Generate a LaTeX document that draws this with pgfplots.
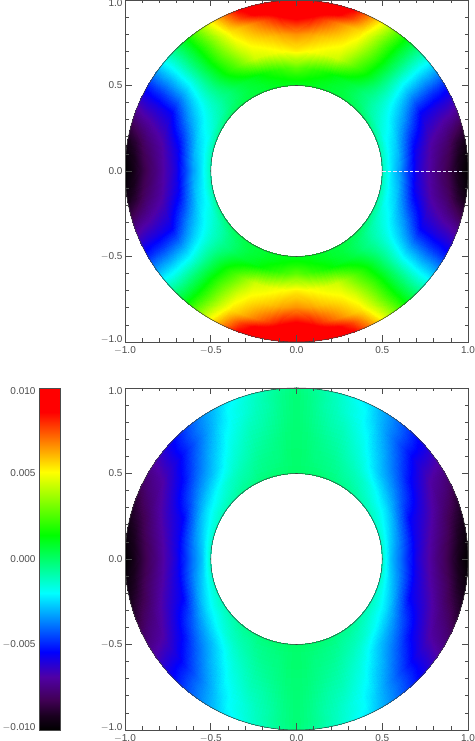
\documentclass[border=0pt]{standalone}
\usepackage{fontspec}
\setmainfont{Liberation Sans}
\usepackage{pgfplots}
\usepackage{pgfplotstable}
\usepgfplotslibrary{patchplots}
\pgfplotsset{compat=1.18}
\newcommand{\up}[1]{\raisebox{3pt}[7pt][0pt]{#1}}
\newcommand{\dn}[1]{\raisebox{-3pt}[7pt][0pt]{#1}}
% colormap positions: (value+10)*10 with value in thousandths
\pgfplotsset{colormap={idl}{
 rgb255(0cm)=(0,0,0);
 rgb255(8cm)=(25,0,30);
 rgb255(17.5cm)=(65,0,85);
 rgb255(31cm)=(80,0,165);
 rgb255(45.5cm)=(0,0,255);
 rgb255(80cm)=(0,255,255);
 rgb255(114cm)=(0,255,0);
 rgb255(151cm)=(255,255,0);
 rgb255(186cm)=(255,0,0);
 rgb255(200cm)=(255,0,0)}}
\pgfplotstableread[row sep=\\]{
t r v\\
0 0.5 -1\\ 0 0.55 -2.2\\ 0 0.6 -3.3\\ 0 0.7 -5.9\\ 0 0.8 -7.3\\ 0 0.9 -8.6\\ 0 0.95 -9.4\\ 0 1 -10\\
5 0.5 -1\\ 5 0.55 -2.2\\ 5 0.6 -3.1\\ 5 0.7 -5.8\\ 5 0.8 -7.2\\ 5 0.9 -8.4\\ 5 0.95 -9.2\\ 5 1 -9.8\\
10 0.5 -0.9\\ 10 0.55 -2.1\\ 10 0.6 -2.9\\ 10 0.7 -5.6\\ 10 0.8 -7\\ 10 0.9 -8\\ 10 0.95 -8.8\\ 10 1 -9.3\\
15 0.5 -0.8\\ 15 0.55 -2\\ 15 0.6 -2.7\\ 15 0.7 -5.1\\ 15 0.8 -6.6\\ 15 0.9 -7.4\\ 15 0.95 -7.9\\ 15 1 -8.5\\
20 0.5 -0.7\\ 20 0.55 -1.9\\ 20 0.6 -2.4\\ 20 0.7 -4.4\\ 20 0.8 -6.1\\ 20 0.9 -6.7\\ 20 0.95 -6.9\\ 20 1 -7.3\\
25 0.5 -0.5\\ 25 0.55 -1.6\\ 25 0.6 -2.1\\ 25 0.7 -3.6\\ 25 0.8 -5.5\\ 25 0.9 -5.9\\ 25 0.95 -6\\ 25 1 -6.2\\
30 0.5 -0.4\\ 30 0.55 -1.3\\ 30 0.6 -1.8\\ 30 0.7 -2.9\\ 30 0.8 -4.3\\ 30 0.9 -4.7\\ 30 0.95 -4.8\\ 30 1 -5\\
35 0.5 -0.2\\ 35 0.55 -1\\ 35 0.6 -1.4\\ 35 0.7 -2.2\\ 35 0.8 -3\\ 35 0.9 -3.3\\ 35 0.95 -3.3\\ 35 1 -3.4\\
40 0.5 0\\ 40 0.55 -0.7\\ 40 0.6 -1\\ 40 0.7 -1.3\\ 40 0.8 -1.8\\ 40 0.9 -1.9\\ 40 0.95 -1.9\\ 40 1 -1.8\\
45 0.5 0.2\\ 45 0.55 -0.3\\ 45 0.6 -0.5\\ 45 0.7 -0.4\\ 45 0.8 -0.4\\ 45 0.9 -0.4\\ 45 0.95 -0.4\\ 45 1 -0.3\\
50 0.5 0.3\\ 50 0.55 0\\ 50 0.6 -0.1\\ 50 0.7 0.6\\ 50 0.8 0.9\\ 50 0.9 1\\ 50 0.95 1.1\\ 50 1 1.2\\
55 0.5 0.5\\ 55 0.55 0.3\\ 55 0.6 0.4\\ 55 0.7 1.6\\ 55 0.8 2.2\\ 55 0.9 2.5\\ 55 0.95 2.8\\ 55 1 3.1\\
60 0.5 0.6\\ 60 0.55 0.6\\ 60 0.6 0.8\\ 60 0.7 2.5\\ 60 0.8 3.4\\ 60 0.9 4.1\\ 60 0.95 4.6\\ 60 1 5.1\\
65 0.5 0.7\\ 65 0.55 0.8\\ 65 0.6 1.1\\ 65 0.7 3.5\\ 65 0.8 4.6\\ 65 0.9 5.5\\ 65 0.95 6.2\\ 65 1 6.9\\
70 0.5 0.8\\ 70 0.55 1\\ 70 0.6 1.4\\ 70 0.7 4.4\\ 70 0.8 5.3\\ 70 0.9 6.2\\ 70 0.95 7.7\\ 70 1 8.6\\
75 0.5 0.9\\ 75 0.55 1.2\\ 75 0.6 1.8\\ 75 0.7 4.6\\ 75 0.8 5.7\\ 75 0.9 7\\ 75 0.95 8.8\\ 75 1 9.4\\
80 0.5 1\\ 80 0.55 1.4\\ 80 0.6 2.1\\ 80 0.7 4.9\\ 80 0.8 6\\ 80 0.9 7.8\\ 80 0.95 9.2\\ 80 1 10\\
85 0.5 1\\ 85 0.55 1.6\\ 85 0.6 2.4\\ 85 0.7 5.1\\ 85 0.8 6.4\\ 85 0.9 8.6\\ 85 0.95 9.6\\ 85 1 10.3\\
90 0.5 1\\ 90 0.55 1.7\\ 90 0.6 2.7\\ 90 0.7 5.3\\ 90 0.8 6.6\\ 90 0.9 8.9\\ 90 0.95 9.9\\ 90 1 10.5\\
}\toptable
\pgfplotstableread[row sep=\\]{
t r v\\
0 0.5 -1.2\\ 0 0.55 -2.8\\ 0 0.6 -3.8\\ 0 0.7 -5.9\\ 0 0.8 -7.3\\ 0 0.9 -8.6\\ 0 0.95 -9.4\\ 0 1 -10\\
5 0.5 -1.2\\ 5 0.55 -2.7\\ 5 0.6 -3.7\\ 5 0.7 -5.8\\ 5 0.8 -7.2\\ 5 0.9 -8.5\\ 5 0.95 -9.2\\ 5 1 -9.8\\
10 0.5 -1.2\\ 10 0.55 -2.5\\ 10 0.6 -3.5\\ 10 0.7 -5.7\\ 10 0.8 -7\\ 10 0.9 -8.2\\ 10 0.95 -9\\ 10 1 -9.5\\
15 0.5 -1.2\\ 15 0.55 -2.3\\ 15 0.6 -3.3\\ 15 0.7 -5.6\\ 15 0.8 -6.7\\ 15 0.9 -8\\ 15 0.95 -8.6\\ 15 1 -9.2\\
20 0.5 -1.2\\ 20 0.55 -2.1\\ 20 0.6 -3\\ 20 0.7 -5.4\\ 20 0.8 -6.4\\ 20 0.9 -7.6\\ 20 0.95 -8.1\\ 20 1 -8.8\\
25 0.5 -1.2\\ 25 0.55 -1.9\\ 25 0.6 -2.7\\ 25 0.7 -4.8\\ 25 0.8 -6.1\\ 25 0.9 -7.3\\ 25 0.95 -7.6\\ 25 1 -8.1\\
30 0.5 -1.1\\ 30 0.55 -1.7\\ 30 0.6 -2.4\\ 30 0.7 -4.2\\ 30 0.8 -5.7\\ 30 0.9 -6.9\\ 30 0.95 -7.2\\ 30 1 -7.5\\
35 0.5 -1\\ 35 0.55 -1.6\\ 35 0.6 -2.2\\ 35 0.7 -3.7\\ 35 0.8 -5.3\\ 35 0.9 -6.3\\ 35 0.95 -6.5\\ 35 1 -6.8\\
40 0.5 -0.9\\ 40 0.55 -1.4\\ 40 0.6 -1.9\\ 40 0.7 -3.3\\ 40 0.8 -4.6\\ 40 0.9 -5.7\\ 40 0.95 -5.8\\ 40 1 -6\\
45 0.5 -0.8\\ 45 0.55 -1.2\\ 45 0.6 -1.6\\ 45 0.7 -2.9\\ 45 0.8 -3.9\\ 45 0.9 -4.9\\ 45 0.95 -5\\ 45 1 -5.3\\
50 0.5 -0.6\\ 50 0.55 -1\\ 50 0.6 -1.3\\ 50 0.7 -2.4\\ 50 0.8 -3.2\\ 50 0.9 -4.1\\ 50 0.95 -4.2\\ 50 1 -4.5\\
55 0.5 -0.5\\ 55 0.55 -0.8\\ 55 0.6 -1.1\\ 55 0.7 -1.8\\ 55 0.8 -2.6\\ 55 0.9 -3.3\\ 55 0.95 -3.5\\ 55 1 -3.7\\
60 0.5 -0.4\\ 60 0.55 -0.7\\ 60 0.6 -0.9\\ 60 0.7 -1.4\\ 60 0.8 -1.9\\ 60 0.9 -2.5\\ 60 0.95 -2.8\\ 60 1 -3\\
65 0.5 -0.3\\ 65 0.55 -0.5\\ 65 0.6 -0.7\\ 65 0.7 -1.1\\ 65 0.8 -1.5\\ 65 0.9 -1.9\\ 65 0.95 -2\\ 65 1 -2.3\\
70 0.5 -0.2\\ 70 0.55 -0.4\\ 70 0.6 -0.5\\ 70 0.7 -0.8\\ 70 0.8 -1.1\\ 70 0.9 -1.5\\ 70 0.95 -1.6\\ 70 1 -1.8\\
75 0.5 -0.1\\ 75 0.55 -0.3\\ 75 0.6 -0.4\\ 75 0.7 -0.6\\ 75 0.8 -0.9\\ 75 0.9 -1.1\\ 75 0.95 -1.2\\ 75 1 -1.3\\
80 0.5 -0.1\\ 80 0.55 -0.2\\ 80 0.6 -0.3\\ 80 0.7 -0.4\\ 80 0.8 -0.6\\ 80 0.9 -0.8\\ 80 0.95 -0.8\\ 80 1 -0.9\\
85 0.5 0\\ 85 0.55 -0.1\\ 85 0.6 -0.1\\ 85 0.7 -0.2\\ 85 0.8 -0.3\\ 85 0.9 -0.4\\ 85 0.95 -0.4\\ 85 1 -0.5\\
90 0.5 0\\ 90 0.55 0\\ 90 0.6 0\\ 90 0.7 -0.1\\ 90 0.8 -0.1\\ 90 0.9 -0.1\\ 90 0.95 -0.1\\ 90 1 -0.2\\
}\bottable
\pgfplotsset{
 idlbox/.style={
  scale only axis, width=343pt, height=342pt,
  xmin=-1, xmax=1, ymin=-1, ymax=1,
  axis on top, colormap name=idl,
  point meta min=-10, point meta max=10,
  axis line style={black!70, line width=0.7pt},
  tick style={black!70, line width=0.6pt},
  xtick={-1,-0.5,0,0.5,1}, ytick={-1,-0.5,0,0.5,1},
  xticklabels={$-$1.0,$-$0.5,0.0,0.5,1.0},
  yticklabels={\up{$-$1.0},$-$0.5,0.0,0.5,\dn{1.0}},
  minor tick num=4,
  major tick length=6.5pt, minor tick length=3.5pt,
  tick align=inside, ticks=both,
  every tick label/.append style={font=\fontsize{10}{11}\selectfont, text=black!70},
  xtick pos=both, ytick pos=both,
  xticklabel pos=bottom, yticklabel pos=left,
  xticklabel style={yshift=-1pt},
  yticklabel style={xshift=1pt},
 },
 pane/.style={surf, shader=interp, patch type=bilinear, mesh/cols=8, mesh/rows=19, point meta=\thisrow{v}},
}
\newcommand{\quadrants}[2]{%
\addplot[#2] table[x expr=\thisrow{r}*cos(\thisrow{t}), y expr=\thisrow{r}*sin(\thisrow{t})] {#1};
\addplot[#2] table[x expr=-\thisrow{r}*cos(\thisrow{t}), y expr=\thisrow{r}*sin(\thisrow{t})] {#1};
\addplot[#2] table[x expr=\thisrow{r}*cos(\thisrow{t}), y expr=-\thisrow{r}*sin(\thisrow{t})] {#1};
\addplot[#2] table[x expr=-\thisrow{r}*cos(\thisrow{t}), y expr=-\thisrow{r}*sin(\thisrow{t})] {#1};
}
\begin{document}
\begin{tikzpicture}[x=1pt,y=1pt]
\useasboundingbox (0,0) rectangle (474,741);
\begin{axis}[idlbox, at={(125pt,399pt)}, anchor=south west]
\quadrants{\toptable}{pane}
\draw[black!75, line width=0.55pt] (axis cs:0,0) circle[radius=1];
\draw[black!75, line width=0.55pt] (axis cs:0,0) circle[radius=0.5];
\addplot[white!90!blue, dash pattern=on 3.5pt off 2pt, line width=0.7pt, forget plot] coordinates {(0.5,0) (1,0)};
\end{axis}
\begin{axis}[idlbox, at={(125pt,11pt)}, anchor=south west]
\quadrants{\bottable}{pane}
\draw[black!75, line width=0.55pt] (axis cs:0,0) circle[radius=1];
\draw[black!75, line width=0.55pt] (axis cs:0,0) circle[radius=0.5];
\end{axis}
\begin{axis}[scale only axis, width=21pt, height=342pt, at={(39pt,11pt)}, anchor=south west,
  xmin=0, xmax=1, ymin=-0.01, ymax=0.01, axis on top, colormap name=idl,
  point meta min=-0.01, point meta max=0.01,
  xtick=\empty, ytick={-0.01,-0.005,0,0.005,0.01},
  yticklabels={\up{$-$0.010},$-$0.005,0.000,0.005,\dn{0.010}},
  major tick length=0pt, tick style={draw=none},
  axis line style={black!70, line width=0.7pt},
  every tick label/.append style={font=\fontsize{10}{11}\selectfont, text=black!70},
  scaled y ticks=false]
\addplot[surf, shader=interp, mesh/cols=2, point meta=y] coordinates {
 (0,-0.01) (1,-0.01)
 (0,-0.0092) (1,-0.0092)
 (0,-0.00825) (1,-0.00825)
 (0,-0.0069) (1,-0.0069)
 (0,-0.00545) (1,-0.00545)
 (0,-0.002) (1,-0.002)
 (0,0.0014) (1,0.0014)
 (0,0.0051) (1,0.0051)
 (0,0.0086) (1,0.0086)
 (0,0.01) (1,0.01)};
\end{axis}
\end{tikzpicture}
\end{document}
